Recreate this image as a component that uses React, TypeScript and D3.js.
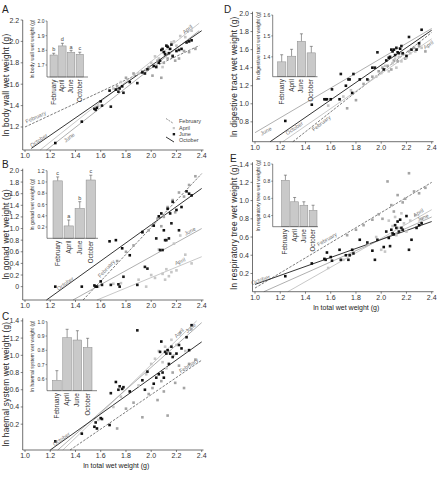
import * as d3 from 'd3';

const months = ['February', 'April', 'June', 'October'];

// ln total wet weight (g), one value per animal
const febTotal = [1.73, 1.80, 1.86, 1.93, 1.98, 2.01, 2.05, 2.08, 2.10, 2.13, 2.17, 2.19, 2.22, 2.26, 2.30, 2.35];
const aprTotal = [1.58, 1.70, 1.76, 1.90, 1.96, 2.00, 2.03, 2.06, 2.09, 2.11, 2.12, 2.14, 2.16, 2.18, 2.20, 2.23, 2.27, 2.32];
const junTotal = [1.56, 1.61, 1.68, 1.74, 1.75, 1.78, 1.89, 1.95, 1.97, 2.04, 2.07, 2.09, 2.11, 2.12, 2.14, 2.16, 2.17, 2.22, 2.28];
const octTotal = [1.24, 1.45, 1.55, 1.57, 1.60, 1.67, 1.72, 1.77, 1.83, 1.93, 2.02, 2.06, 2.08, 2.10, 2.13, 2.15, 2.20, 2.24, 2.30, 2.32];

// A: ln body wall wet weight (g)
const febBodyWall = [1.58, 1.66, 1.70, 1.72, 1.76, 1.68, 1.82, 1.66, 1.80, 1.84, 1.87, 1.82, 1.84, 1.91, 1.90, 1.93];
const aprBodyWall = [1.40, 1.56, 1.62, 1.70, 1.74, 1.80, 1.86, 1.84, 1.76, 1.90, 1.96, 1.93, 1.99, 2.00, 1.96, 2.05, 2.04, 2.10];
const junBodyWall = [1.36, 1.40, 1.39, 1.53, 1.56, 1.52, 1.61, 1.70, 1.74, 1.76, 1.82, 1.93, 1.88, 1.96, 1.89, 1.97, 1.86, 1.92, 1.99];
const octBodyWall = [1.05, 1.25, 1.37, 1.38, 1.44, 1.54, 1.55, 1.58, 1.62, 1.71, 1.77, 1.80, 1.92, 1.90, 1.95, 1.93, 1.91, 1.93, 2.00, 2.01];

// B: ln gonad wet weight (g)
const febGonad = [0.44, 0.60, 0.71, 0.93, 0.97, 1.05, 1.17, 1.04, 1.20, 1.37, 1.49, 1.28, 1.62, 1.55, 1.75, 1.90];
const aprGonad = [0.0, 0.05, 0.06, 0.12, 0.0, 0.20, 0.15, 0.64, 0.22, 0.12, 0.30, 0.18, 0.25, 0.74, 0.28, 0.88, 0.55, 0.40];
const junGonad = [0.0, 0.03, 0.03, 0.04, 0.0, 0.17, 0.03, 0.34, 0.31, 0.83, 0.63, 0.63, 0.80, 0.80, 0.83, 1.09, 1.46, 0.97, 1.64];
const octGonad = [0.0, 0.0, 0.02, 0.0, 0.09, 0.78, 0.80, 0.66, 0.54, 0.94, 1.05, 1.21, 1.26, 0.97, 1.34, 1.26, 1.32, 1.37, 1.60, 1.57];

// C: ln haemal system wet weight (g)
const febHaemal = [0.15, 0.38, 0.45, 0.28, 0.55, 0.62, 0.48, 0.70, 0.58, 0.30, 0.80, 0.68, 0.88, 0.62, 0.90, 0.95];
const aprHaemal = [0.25, 0.40, 0.52, 0.65, 0.78, 0.90, 0.96, 1.05, 0.92, 1.10, 0.85, 1.04, 1.18, 1.00, 1.12, 1.26, 1.05, 1.30];
const junHaemal = [0.22, 0.26, 0.56, 0.60, 0.64, 0.63, 1.29, 0.60, 0.81, 0.74, 1.04, 0.80, 1.04, 1.02, 0.90, 1.10, 0.98, 1.12, 1.21];
const octHaemal = [0.0, 0.09, 0.17, 0.15, 0.27, 0.19, 0.69, 0.61, 0.58, 0.71, 0.67, 0.78, 1.16, 0.74, 1.06, 1.02, 1.02, 1.08, 1.06, 1.35];

// D: ln digestive tract wet weight (g)
const febDigestive = [0.95, 1.04, 1.22, 1.30, 1.36, 1.40, 1.42, 1.38, 1.48, 1.47, 1.55, 1.50, 1.58, 1.62, 1.64, 1.58];
const aprDigestive = [0.98, 1.08, 1.15, 1.26, 1.30, 1.34, 1.42, 1.36, 1.45, 1.50, 1.40, 1.52, 1.47, 1.55, 1.51, 1.56, 1.58, 1.62];
const junDigestive = [1.05, 1.16, 1.33, 1.27, 1.27, 1.33, 1.27, 1.40, 1.57, 1.48, 1.52, 1.58, 1.54, 1.62, 1.56, 1.64, 1.56, 1.74, 1.60];
const octDigestive = [0.81, 0.99, 1.05, 1.05, 1.05, 1.05, 1.20, 1.12, 1.27, 1.40, 1.38, 1.51, 1.60, 1.60, 1.57, 1.61, 1.53, 1.60, 1.67, 1.82];

// E: ln respiratory tree wet weight (g)
const febRespiratory = [0.62, 0.68, 0.73, 0.79, 0.85, 0.80, 1.21, 0.95, 0.88, 1.06, 0.98, 1.02, 1.30, 1.10, 1.08, 1.14];
const aprRespiratory = [0.26, 0.35, 0.42, 0.52, 0.60, 0.46, 0.44, 0.78, 0.72, 0.82, 0.62, 0.70, 0.86, 0.75, 0.66, 0.78, 0.84, 0.80];
const junRespiratory = [0.35, 0.34, 0.35, 0.35, 0.40, 0.42, 0.54, 0.35, 0.57, 0.66, 0.50, 0.64, 0.73, 0.70, 0.66, 0.70, 0.68, 0.46, 0.70];
const octRespiratory = [0.17, 0.31, 0.36, 0.43, 0.38, 0.46, 0.40, 0.46, 0.57, 0.45, 0.49, 0.59, 0.68, 0.63, 0.77, 0.79, 0.83, 0.57, 0.73, 0.75];

// regression lines [x0, y0, x1, y1], month order
const bodyWallFits = [[1.0, 1.2, 2.38, 1.96], [1.12, 0.985, 2.38, 2.17], [1.17, 0.985, 2.38, 2.10], [1.05, 1.0, 2.4, 2.1]];
const gonadFits = [[1.46, -0.23, 2.4, 1.945], [1.57, -0.23, 2.4, 0.515], [1.38, -0.23, 2.4, 1.0], [1.17, -0.23, 2.4, 1.69]];
const haemalFits = [[1.357, -0.1, 2.4, 0.943], [1.30, -0.1, 2.36, 1.40], [1.26, -0.1, 2.4, 1.38], [1.2, -0.1, 2.4, 1.156]];
const digestiveFits = [[1.30, 0.58, 2.4, 1.79], [1.22, 0.58, 2.4, 1.72], [1.0, 0.68, 2.4, 1.834], [1.12, 0.58, 2.4, 1.815]];
const respiratoryFits = [[1.0, 0.04, 2.4, 1.2], [1.26, 0, 2.4, 0.90], [1.07, 0, 2.4, 0.82], [1.0, 0.08, 2.4, 0.77]];

// inset bars: mean and top of error bar
const bodyWallMeans = [1.768, 1.83, 1.787, 1.773];
const bodyWallUpper = [1.78, 1.848, 1.80, 1.787];
const bodyWallLetters = ['b', 'd', 'a', 'c'];
const gonadMeans = [1.02, 0.22, 0.53, 1.035];
const gonadUpper = [1.09, 0.325, 0.65, 1.12];
const gonadLetters = ['c', 'a', 'b', 'c'];
const haemalMeans = [0.59, 0.888, 0.872, 0.82];
const haemalUpper = [0.658, 0.947, 0.937, 0.884];
const digestiveMeans = [1.376, 1.403, 1.474, 1.419];
const digestiveUpper = [1.41, 1.436, 1.51, 1.45];
const respiratoryMeans = [0.81, 0.56, 0.52, 0.46];
const respiratoryUpper = [0.87, 0.61, 0.56, 0.52];

const xTicks = [1.0, 1.2, 1.4, 1.6, 1.8, 2.0, 2.2, 2.4];

const totals = [febTotal, aprTotal, junTotal, octTotal];
const pointFill = ['#a4a4a4', '#c6c6c6', '#1a1a1a', '#0d0d0d'];
const lineStyle = [
  { stroke: '#6e6e6e', dash: '2.6,1.4' },
  { stroke: '#c2c2c2', dash: undefined },
  { stroke: '#a6a6a6', dash: undefined },
  { stroke: '#1e1e1e', dash: undefined },
];

const fmt = (v: number) => (v === 0 ? '0' : d3.format('.1f')(v));

function Inset({ spec }: { spec: any }) {
  const bx = d3.scaleBand<string>().domain(months).range(spec.band).paddingInner(0.15);
  const by = d3.scaleLinear().domain(spec.domain).range([spec.bottom, spec.top]);
  const midY = (spec.top + spec.bottom) / 2;
  return (
    <g>
      {spec.means.map((m: number, i: number) => {
        const x0 = bx(months[i])!;
        const cx = x0 + bx.bandwidth() / 2;
        return (
          <g key={i}>
            <line x1={cx} x2={cx} y1={by(m)} y2={by(spec.upper[i])} stroke="#555" strokeWidth={0.6} />
            <line x1={cx - 1.5} x2={cx + 1.5} y1={by(spec.upper[i])} y2={by(spec.upper[i])} stroke="#555" strokeWidth={0.6} />
            <rect x={x0} y={by(m)} width={bx.bandwidth()} height={spec.bottom - by(m)} fill="#c9c9c9" stroke="#8a8a8a" strokeWidth={0.5} />
            {spec.letters && (
              <text x={cx} y={by(spec.upper[i]) - 1.8} textAnchor="middle" fontSize={5.5} fill="#444">{spec.letters[i]}</text>
            )}
            <text transform={`translate(${cx + 2},${spec.bottom + 2.5}) rotate(-90)`} textAnchor="end" fontSize={6.3} fill="#333">{months[i]}</text>
          </g>
        );
      })}
      <line x1={spec.axisX} x2={spec.axisX} y1={spec.bottom} y2={spec.top} stroke="#333" strokeWidth={0.6} />
      <line x1={spec.axisX} x2={spec.right} y1={spec.bottom} y2={spec.bottom} stroke="#333" strokeWidth={0.6} />
      {spec.ticks.map((t: number) => (
        <g key={t}>
          <line x1={spec.axisX - 1.5} x2={spec.axisX} y1={by(t)} y2={by(t)} stroke="#333" strokeWidth={0.5} />
          <text x={spec.axisX - 2.5} y={by(t)} dominantBaseline="central" textAnchor="end" fontSize={5} fill="#333">{fmt(t)}</text>
        </g>
      ))}
      <text transform={`translate(${spec.axisX - 13},${midY}) rotate(-90)`} textAnchor="middle" fontSize={5} fill="#333">{spec.title}</text>
    </g>
  );
}

function Panel({ spec }: { spec: any }) {
  const x = d3.scaleLinear().domain([1.0, 2.4]).range([spec.x10, spec.x10 + 176.7]);
  const y = d3.scaleLinear().domain(spec.yDomain).range([spec.bottom, spec.top]);
  const axisRight = spec.x10 + 178.5;
  return (
    <g>
      <text x={spec.letterPos[0]} y={spec.letterPos[1]} fontSize={10} fill="#222">{spec.letter}</text>
      {spec.fits.map((f: number[], i: number) => (
        <line key={i} x1={x(f[0])} y1={y(f[1])} x2={x(f[2])} y2={y(f[3])} stroke={lineStyle[i].stroke} strokeDasharray={lineStyle[i].dash} strokeWidth={0.9} />
      ))}
      {spec.series.map((ys: number[], i: number) =>
        ys.map((v, j) => (
          <rect key={`${i}-${j}`} x={x(totals[i][j]) - 1.3} y={y(v) - 1.3} width={2.6} height={2.6} fill={pointFill[i]} />
        ))
      )}
      {spec.fits.map((f: number[], i: number) => {
        const [lx, off] = spec.labels[i];
        const ly = f[1] + ((f[3] - f[1]) * (lx - f[0])) / (f[2] - f[0]);
        const ang = (Math.atan2(y(f[3]) - y(f[1]), x(f[2]) - x(f[0])) * 180) / Math.PI;
        return (
          <text key={i} transform={`translate(${x(lx)},${y(ly)}) rotate(${ang})`} y={-off} textAnchor="middle" dominantBaseline="central" fontSize={5.5} fill="#777">
            {months[i]}
          </text>
        );
      })}
      <line x1={spec.axisX} x2={spec.axisX} y1={spec.bottom} y2={spec.top} stroke="#333" strokeWidth={0.7} />
      <line x1={spec.axisX} x2={axisRight} y1={spec.bottom} y2={spec.bottom} stroke="#333" strokeWidth={0.7} />
      {spec.yTicks.map((t: number) => (
        <g key={t}>
          <line x1={spec.axisX - 2} x2={spec.axisX} y1={y(t)} y2={y(t)} stroke="#333" strokeWidth={0.6} />
          <text x={spec.axisX - 3.5} y={y(t)} dominantBaseline="central" textAnchor="end" fontSize={7} fill="#333">{fmt(t)}</text>
        </g>
      ))}
      {xTicks.map((t) => (
        <g key={t}>
          <line x1={x(t)} x2={x(t)} y1={spec.bottom} y2={spec.bottom + 2} stroke="#333" strokeWidth={0.6} />
          <text x={x(t)} y={spec.bottom + 8} textAnchor="middle" fontSize={7} fill="#333">{fmt(t)}</text>
        </g>
      ))}
      <text transform={`translate(${spec.titleX},${(spec.top + spec.bottom) / 2}) rotate(-90)`} textAnchor="middle" dominantBaseline="central" fontSize={8.3} letterSpacing={0.2} fill="#222">
        {spec.yTitle}
      </text>
      {spec.xTitle && (
        <text x={(spec.x10 + axisRight) / 2 + 2} y={spec.bottom + 18} textAnchor="middle" fontSize={7} fill="#222">{spec.xTitle}</text>
      )}
      <Inset spec={spec.inset} />
    </g>
  );
}

const panels = [
  {
    letter: 'A', letterPos: [2, 13], x10: 25, axisX: 22.7, top: 20, bottom: 150,
    yDomain: [0.985, 2.2], yTicks: [1.2, 1.4, 1.6, 1.8, 2.0, 2.2], titleX: 6,
    yTitle: 'ln body wall wet weight (g)',
    series: [febBodyWall, aprBodyWall, junBodyWall, octBodyWall], fits: bodyWallFits,
    labels: [[1.10, 4.5], [2.30, 2.5], [1.33, -4], [1.12, 2.5]],
    inset: { axisX: 47, right: 88, band: [50, 83.5], top: 21, bottom: 77, domain: [1.618, 2.0], ticks: [1.7, 1.8, 1.9, 2.0], means: bodyWallMeans, upper: bodyWallUpper, letters: bodyWallLetters, title: 'ln body wall wet weight (g)' },
  },
  {
    letter: 'B', letterPos: [2, 168], x10: 25, axisX: 22.7, top: 168.7, bottom: 300,
    yDomain: [-0.23, 2.03], yTicks: [0, 0.2, 0.4, 0.6, 0.8, 1.0, 1.2, 1.4, 1.6, 1.8, 2.0], titleX: 6,
    yTitle: 'ln gonad wet weight (g)',
    series: [febGonad, aprGonad, junGonad, octGonad], fits: gonadFits,
    labels: [[1.67, 4.5], [2.24, 4], [2.32, 3.5], [1.33, 2.5]],
    inset: { axisX: 47, right: 98, band: [53, 95.5], top: 170.7, bottom: 238.3, domain: [0, 1.2], ticks: [0.2, 0.4, 0.6, 0.8, 1.0, 1.2], means: gonadMeans, upper: gonadUpper, letters: gonadLetters, title: 'ln gonad wet weight (g)' },
  },
  {
    letter: 'C', letterPos: [2, 320], x10: 25, axisX: 22.7, top: 318.3, bottom: 450,
    yDomain: [-0.1, 1.43], yTicks: [0.2, 0.4, 0.6, 0.8, 1.0, 1.2, 1.4], titleX: 6,
    yTitle: 'ln haemal system wet weight (g)', xTitle: 'ln total wet weight (g)',
    series: [febHaemal, aprHaemal, junHaemal, octHaemal], fits: haemalFits,
    labels: [[2.31, 3], [2.24, 3.5], [2.33, 3.5], [1.30, 2.5]],
    inset: { axisX: 47, right: 97, band: [52.5, 92], top: 321.7, bottom: 390.7, domain: [0.518, 1.0], ticks: [0.6, 0.7, 0.8, 0.9, 1.0], means: haemalMeans, upper: haemalUpper, title: 'ln haemal system wet weight (g)' },
  },
  {
    letter: 'D', letterPos: [224, 13], x10: 255, axisX: 252.5, top: 11.7, bottom: 141.7,
    yDomain: [0.58, 2.02], yTicks: [0.8, 1.0, 1.2, 1.4, 1.6, 1.8, 2.0], titleX: 234,
    yTitle: 'ln digestive tract wet weight (g)',
    series: [febDigestive, aprDigestive, junDigestive, octDigestive], fits: digestiveFits,
    labels: [[1.51, -3], [2.36, -3], [1.07, -4], [1.30, -2.5]],
    inset: { axisX: 272.7, right: 317.5, band: [277.5, 315.5], top: 15, bottom: 76.7, domain: [1.305, 1.6], ticks: [1.4, 1.5, 1.6], means: digestiveMeans, upper: digestiveUpper, title: 'ln digestive tract wet weight (g)' },
  },
  {
    letter: 'E', letterPos: [230, 162], x10: 255, axisX: 252.5, top: 162.3, bottom: 291.7,
    yDomain: [0, 1.42], yTicks: [0.2, 0.4, 0.6, 0.8, 1.0, 1.2, 1.4], titleX: 234,
    yTitle: 'ln respiratory tree wet weight (g)', xTitle: 'ln total wet weight (g)',
    series: [febRespiratory, aprRespiratory, junRespiratory, octRespiratory], fits: respiratoryFits,
    labels: [[1.59, 5], [2.31, 4], [2.34, 3], [1.05, 2.5]],
    inset: { axisX: 272.7, right: 318, band: [281.5, 317], top: 164, bottom: 226.7, domain: [0.27, 1.0], ticks: [0.4, 0.6, 0.8, 1.0], means: respiratoryMeans, upper: respiratoryUpper, title: 'ln respiratory tree wet weight (g)' },
  },
];

function Legend() {
  const rows = [121, 128, 134, 140];
  return (
    <g fontSize={5.5} fill="#444">
      <line x1={166} y1={118.5} x2={173.5} y2={123.5} stroke="#777" strokeWidth={0.8} strokeDasharray="2,1" />
      <rect x={172.7} y={127} width={2.2} height={2.2} fill={pointFill[1]} />
      <rect x={172.7} y={133} width={2.4} height={2.4} fill={pointFill[2]} />
      <line x1={166} y1={137} x2={174} y2={142} stroke="#1e1e1e" strokeWidth={0.9} />
      {months.map((m, i) => (
        <text key={m} x={179} y={rows[i]} dominantBaseline="central">{m}</text>
      ))}
    </g>
  );
}

export default function App() {
  return (
    <svg
      width={445}
      height={477}
      style={{ position: 'absolute', left: 0, top: 0, background: '#fff' }}
      fontFamily="'Liberation Sans', Arial, sans-serif"
    >
      {panels.map((p) => (
        <Panel key={p.letter} spec={p} />
      ))}
      <Legend />
    </svg>
  );
}
